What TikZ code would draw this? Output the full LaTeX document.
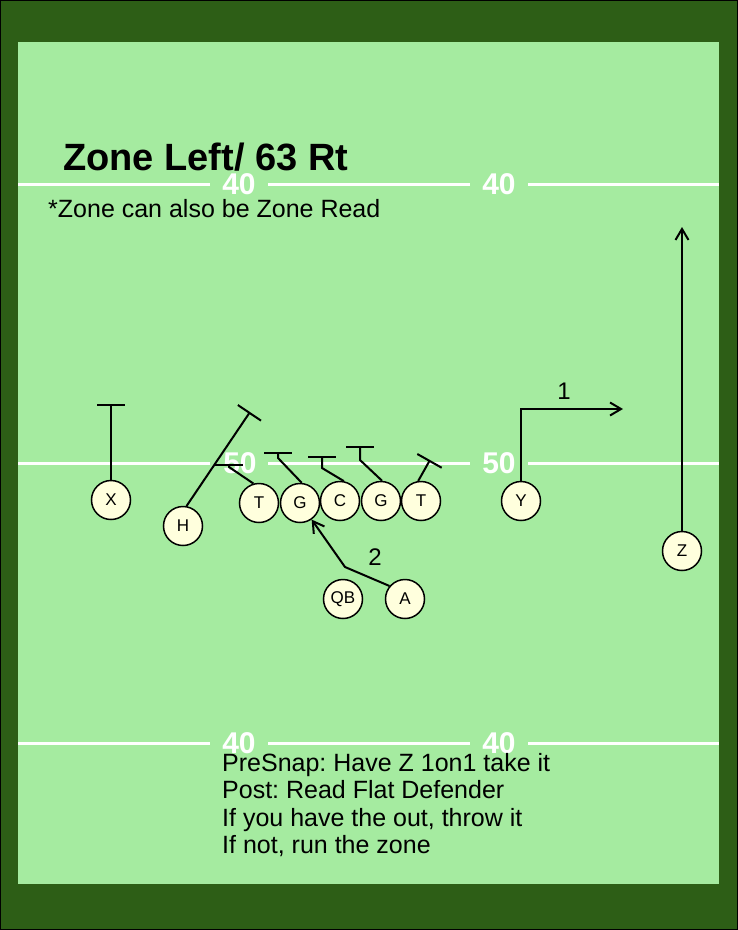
\documentclass[tikz,border=0pt]{standalone}
\usepackage{fontspec}
\setmainfont{Liberation Sans}
\usetikzlibrary{arrows.meta}
\frenchspacing
\definecolor{fielddark}{RGB}{45,94,22}
\definecolor{fieldlight}{RGB}{165,235,160}
\definecolor{playerfill}{RGB}{255,255,221}
\tikzset{
    player/.style={circle, draw, line width=1.5pt, fill=playerfill, minimum size=39pt, inner sep=0pt, font=\fontsize{17}{17}\selectfont},
    route/.style={line width=2pt},
    block/.style={route, -{Bar[width=28pt]}},
    run/.style={route, -{Straight Barb[length=11pt,width=13pt]}},
    yardline/.style={white, line width=3pt},
    yardnum/.style={white, inner sep=0pt, font=\fontsize{30}{30}\bfseries\selectfont},
    note/.style={anchor=base west, inner sep=0pt, font=\fontsize{25}{28}\selectfont},
    numlabel/.style={inner sep=0pt, font=\fontsize{24}{24}\selectfont}
}

\begin{document}
\begin{tikzpicture}[x=1pt, y=-1pt]
    \useasboundingbox (0,0) rectangle (738,930);

    % Поле
    \fill [fielddark] (0,0) rectangle (738,930);
    \draw [line width=2pt] (0,0) rectangle (738,930);
    \fill [fieldlight] (18,42) rectangle (719,884);

    % Линии ярдов
    \draw [yardline]
        (18,184) -- (210,184) (268,184) -- (470,184) (528,184) -- (719,184)
        (18,463) -- (210,463) (268,463) -- (470,463) (528,463) -- (719,463)
        (18,743) -- (210,743) (268,743) -- (470,743) (528,743) -- (719,743);
    \node [yardnum] (top40l) at (239,184) {40};
    \node [yardnum] (top40r) at (499,184) {40};
    \node [yardnum] (mid50l) at (240,463) {50};
    \node [yardnum] (mid50r) at (499,463) {50};
    \node [yardnum] (bot40l) at (239,743) {40};
    \node [yardnum] (bot40r) at (499,743) {40};

    % Заголовок
    \node [anchor=base west, inner sep=0pt, font=\fontsize{38}{40}\bfseries\selectfont] (title) at (63,170) {Zone Left/ 63 Rt};
    \node [note] (subtitle) at (48,217) {*Zone can also be Zone Read};

    % Игроки
    \node [player] (X) at (111,500) {X};
    \node [player] (H) at (183,526) {H};
    \node [player] (LT) at (259,503) {T};
    \node [player] (LG) at (300,503) {G};
    \node [player] (C) at (340,501) {C};
    \node [player] (RG) at (381,501) {G};
    \node [player] (RT) at (421,501) {T};
    \node [player] (QB) at (343,599) {QB};
    \node [player] (A) at (405,599) {A};
    \node [player] (Y) at (521,501) {Y};
    \node [player] (Z) at (682,551) {Z};

    % Точки маршрутов
    \coordinate (Xend) at (111,404);
    \coordinate (Hend) at (250,412);
    \coordinate (LTk) at (229,467);
    \coordinate (LTend) at (229,464);
    \coordinate (LGk) at (278,458);
    \coordinate (LGend) at (278,452);
    \coordinate (Ck) at (322,468);
    \coordinate (Cend) at (322,456);
    \coordinate (RGk) at (360,460);
    \coordinate (RGend) at (360,446);
    \coordinate (RTend) at (430,460);
    \coordinate (Ak) at (345,567);
    \coordinate (Yk) at (521,409);
    \coordinate (Yend) at (623,409);
    \coordinate (Zend) at (682,227);

    % Блоки
    \draw [block] (X) -- (Xend);
    \draw [block] (H.80) -- (Hend);
    \draw [block] (LT.106) -- (LTk) -- (LTend);
    \draw [block] (LG.85) -- (LGk) -- (LGend);
    \draw [block] (C.79) -- (Ck) -- (Cend);
    \draw [block] (RG.87) -- (RGk) -- (RGend);
    \draw [block] (RT.98) -- (RTend);

    % Маршруты
    \draw [run] (A.140) -- (Ak) -- (LG);
    \draw [run] (Y) -- (Yk) -- (Yend);
    \draw [run] (Z) -- (Zend);
    \node [numlabel] (one) at (564,391) {1};
    \node [numlabel] (two) at (375,557) {2};

    % Комментарии
    \node [note] (line1) at (222,771) {PreSnap: Have Z 1on1 take it};
    \node [note] (line2) at (222,798) {Post: Read Flat Defender};
    \node [note] (line3) at (222,826) {If you have the out, throw it};
    \node [note] (line4) at (222,853) {If not, run the zone};
\end{tikzpicture}
\end{document}
